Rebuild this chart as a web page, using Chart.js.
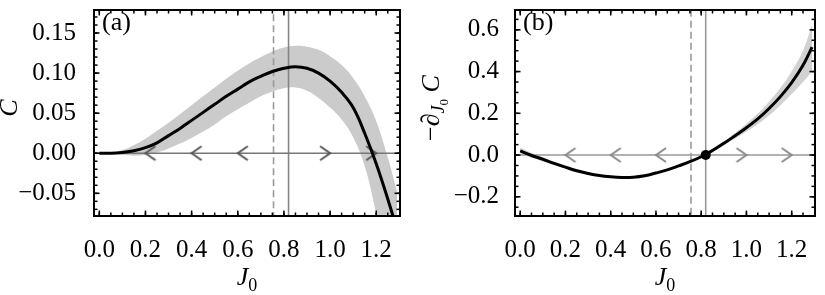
<!DOCTYPE html>
<html><head><meta charset="utf-8">
<script src="https://cdn.jsdelivr.net/npm/chart.js@4.4.1/dist/chart.umd.min.js"></script>
<style>
html,body{margin:0;padding:0;background:#fff;width:825px;height:295px;overflow:hidden}
canvas{position:absolute;top:0}
#ca{left:0}
#cb{left:415px}
</style></head><body>
<canvas id="ca" width="410" height="295"></canvas>
<canvas id="cb" width="410" height="295"></canvas>
<script>
// ---- data ----
const J_GRID  = [0,0.05,0.10,0.15,0.20,0.25,0.30,0.35,0.40,0.45,0.50,0.55,0.60,0.65,0.70,0.75,0.80,0.85,0.90,0.95,1.00,1.05,1.10,1.15,1.20,1.25,1.29];
// panel (a): C
const C_MEAN  = [0.000,0.000,0.001,0.003,0.007,0.013,0.022,0.031,0.041,0.051,0.061,0.071,0.080,0.089,0.096,0.102,0.106,0.108,0.106,0.100,0.090,0.076,0.057,0.025,-0.013,-0.057,-0.095];
const C_UPPER = [0.000,0.001,0.004,0.010,0.018,0.028,0.038,0.049,0.060,0.071,0.082,0.093,0.103,0.112,0.120,0.127,0.132,0.134,0.133,0.129,0.121,0.110,0.094,0.071,0.040,-0.005,-0.048];
const C_LOWER = [0.000,-0.001,-0.002,-0.003,-0.002,0.001,0.006,0.012,0.019,0.027,0.036,0.046,0.055,0.063,0.071,0.077,0.081,0.082,0.078,0.069,0.057,0.042,0.020,-0.016,-0.075,-0.140,-0.190];
// panel (b): -dC/dJ0
const D_MEAN  = [0.020,-0.002,-0.020,-0.040,-0.058,-0.075,-0.088,-0.098,-0.104,-0.107,-0.106,-0.099,-0.086,-0.071,-0.052,-0.032,-0.008,0.022,0.056,0.093,0.131,0.173,0.223,0.280,0.347,0.430,0.517];
const D_UPPER = [0.035,0.011,-0.010,-0.031,-0.050,-0.068,-0.082,-0.093,-0.100,-0.104,-0.103,-0.096,-0.083,-0.068,-0.049,-0.029,-0.004,0.028,0.065,0.106,0.150,0.199,0.256,0.322,0.402,0.500,0.624];
const D_LOWER = [0.008,-0.012,-0.030,-0.049,-0.066,-0.082,-0.094,-0.103,-0.109,-0.111,-0.110,-0.103,-0.090,-0.074,-0.055,-0.035,-0.011,0.016,0.046,0.079,0.113,0.148,0.190,0.238,0.292,0.350,0.402];
const X_TICKS   = [0,0.2,0.4,0.6,0.8,1.0,1.2];
const Y_TICKS_A = [-0.05,0,0.05,0.10,0.15];
const Y_TICKS_B = [-0.2,0,0.2,0.4,0.6];
const ARROWS_LEFT  = [0.2,0.4,0.6];
const ARROWS_RIGHT = [1.0,1.2];
const FIXED_POINT = 0.82;
const DASHED_J    = 0.755;
const X_RANGE   = [-0.023,1.303];
const Y_RANGE_A = [-0.0783,0.1787];
const Y_RANGE_B = [-0.292,0.695];

const FONT = 'Liberation Serif';

function chevron(dir,color){
  const c=document.createElement('canvas');c.width=26;c.height=18;
  const g=c.getContext('2d');g.strokeStyle=color;g.lineWidth=2;g.lineJoin='miter';
  g.beginPath();
  if(dir==='left'){g.moveTo(23,2);g.lineTo(13,9);g.lineTo(23,16);}
  else{g.moveTo(3,2);g.lineTo(13,9);g.lineTo(3,16);}
  g.stroke();return c;
}
function fmt(v,d){const s=Math.abs(v).toFixed(d);return (v<-1e-9?'\u2212':'')+s;}
function pts(xs,ys){return xs.map((x,i)=>({x:x,y:ys[i]}));}

const framePlugin={
  id:'frame',
  afterDraw(chart,args,o){
    const ctx=chart.ctx,a=chart.chartArea,xs=chart.scales.x,ys=chart.scales.y;
    ctx.save();
    ctx.globalAlpha=1;ctx.globalCompositeOperation='source-over';ctx.setLineDash([]);
    ctx.fillStyle='#000';
    const L=Math.round(a.left),R=Math.round(a.right),T=Math.round(a.top),B=Math.round(a.bottom);
    const yT=Array.from(o.yTicks);
    const tick=(vals,isX,len)=>{
      vals.forEach(v=>{
        if(isX){const p=xs.getPixelForValue(v);if(p<L+2||p>R-2)return;
          ctx.fillRect(p-0.75,B-len,1.5,len);ctx.fillRect(p-0.75,T,1.5,len);}
        else{const p=ys.getPixelForValue(v);if(p<T+2||p>B-2)return;
          ctx.fillRect(L,p-0.75,len,1.5);ctx.fillRect(R-len,p-0.75,len,1.5);}
      });
    };
    const minor=(min,max,step)=>{const r=[];for(let k=Math.ceil(min/step-1e-9);k<=Math.floor(max/step+1e-9);k++)r.push(k*step);return r;};
    tick(minor(xs.min,xs.max,0.05),true,3.5);
    tick(X_TICKS,true,5.5);
    tick(minor(ys.min,ys.max,o.minorY),false,3.5);
    tick(yT,false,5.5);
    // frame
    ctx.fillRect(L-1,T-1,R-L+2,2);
    ctx.fillRect(L-1,B-1,R-L+2,2);
    ctx.fillRect(L-1,T-1,2,B-T+2);
    ctx.fillRect(R-1,T-1,2,B-T+2);
    // panel label
    ctx.font='26px "'+FONT+'"';ctx.textAlign='left';ctx.textBaseline='alphabetic';
    ctx.fillText(o.label,a.left+8,30);
    // x title J_0
    const cx=(a.left+a.right)/2;
    ctx.font='italic 26px "'+FONT+'"';const wJ=ctx.measureText('J').width;
    ctx.font='18px "'+FONT+'"';const w0=ctx.measureText('0').width;
    let x0=cx-(wJ+w0)/2;
    ctx.font='italic 26px "'+FONT+'"';ctx.fillText('J',x0,285);
    ctx.font='18px "'+FONT+'"';ctx.fillText('0',x0+wJ,291);
    // y title
    ctx.translate(o.titleX,108);ctx.rotate(-Math.PI/2);
    if(o.yTitle==='C'){
      ctx.font='italic 26px "'+FONT+'"';ctx.textAlign='center';ctx.fillText('C',0,0);
    }else{
      const parts=[
        {t:'\u2212',f:'26px',dy:0},
        {t:'\u2202',f:'italic 26px',dy:0},
        {t:'J',f:'italic 18px',dy:5},
        {t:'0',f:'13px',dy:9},
        {t:' ',f:'26px',dy:0},
        {t:'C',f:'italic 26px',dy:0}];
      let tot=0;parts.forEach(p=>{ctx.font=p.f+' "'+FONT+'"';p.w=ctx.measureText(p.t).width;tot+=p.w;});
      let x=-tot/2;ctx.textAlign='left';
      parts.forEach(p=>{ctx.font=p.f+' "'+FONT+'"';ctx.fillText(p.t,x,p.dy);x+=p.w;});
    }
    ctx.restore();
  }
};

function makeChart(id,cfg){
  const yr=cfg.yRange;
  const ds=[
    {label:'curve',data:pts(J_GRID,cfg.mean),borderColor:'#000',borderWidth:3,pointRadius:0,tension:0.4,fill:false,order:1},
    {label:'arrowsL',data:ARROWS_LEFT.map(x=>({x:x,y:0})),showLine:false,pointStyle:chevron('left',cfg.arrowColor),pointRadius:9,order:2},
    {label:'arrowsR',data:ARROWS_RIGHT.map(x=>({x:x,y:0})),showLine:false,pointStyle:chevron('right',cfg.arrowColor),pointRadius:9,order:2},
    {label:'zero',data:[{x:X_RANGE[0]-0.1,y:0},{x:X_RANGE[1]+0.1,y:0}],borderColor:cfg.lineColor,borderWidth:1.6,pointRadius:0,fill:false,order:3},
    {label:'fixed',data:[{x:FIXED_POINT,y:yr[0]-0.1},{x:FIXED_POINT,y:yr[1]+0.1}],borderColor:cfg.vColor,borderWidth:1.6,pointRadius:0,fill:false,order:3},
    {label:'dashed',data:[{x:DASHED_J,y:yr[0]-0.1},{x:DASHED_J,y:yr[1]+0.1}],borderColor:'#9a9a9a',borderWidth:1.6,borderDash:[7,4],pointRadius:0,fill:false,order:3},
    {label:'upper',data:pts(J_GRID,cfg.upper),borderWidth:0,borderColor:'rgba(0,0,0,0)',backgroundColor:cfg.band,pointRadius:0,tension:0.4,fill:'+1',order:4},
    {label:'lower',data:pts(J_GRID,cfg.lower),borderWidth:0,borderColor:'rgba(0,0,0,0)',pointRadius:0,tension:0.4,fill:false,order:5}
  ];
  if(cfg.dot) ds.splice(1,0,{label:'dot',data:[{x:FIXED_POINT,y:0}],showLine:false,pointRadius:5,pointBackgroundColor:'#000',pointBorderWidth:0,order:0});
  return new Chart(document.getElementById(id),{
    type:'line',
    data:{datasets:ds},
    options:{
      responsive:false,animation:false,devicePixelRatio:1,events:[],
      layout:{padding:{left:0,right:cfg.padRight,top:1,bottom:0}},
      plugins:{legend:{display:false},tooltip:{enabled:false},
        frame:{label:cfg.label,yTicks:cfg.yTicks,minorY:cfg.minorY,yTitle:cfg.yTitle,titleX:cfg.titleX}},
      scales:{
        x:{type:'linear',min:X_RANGE[0],max:X_RANGE[1],grid:{display:false},border:{display:false},
          afterBuildTicks:s=>{s.ticks=X_TICKS.map(v=>({value:v}));},
          afterFit:s=>{s.height=79;s.paddingLeft=0;s.paddingRight=0;},
          ticks:{autoSkip:false,maxRotation:0,minRotation:0,padding:11,color:'#000',font:{family:FONT,size:25},callback:v=>fmt(v,1)}},
        y:{type:'linear',min:yr[0],max:yr[1],grid:{display:false},border:{display:false},
          afterBuildTicks:s=>{s.ticks=cfg.yTicks.map(v=>({value:v}));},
          afterFit:s=>{s.width=cfg.yWidth;s.paddingTop=0;s.paddingBottom=0;},
          ticks:{autoSkip:false,padding:cfg.yPad,color:'#000',font:{family:FONT,size:25},callback:v=>fmt(v,cfg.yDec)}}
      }
    },
    plugins:[framePlugin]
  });
}

makeChart('ca',{mean:C_MEAN,upper:C_UPPER,lower:C_LOWER,yRange:Y_RANGE_A,yTicks:Y_TICKS_A,minorY:0.01,yDec:2,
  yWidth:94,padRight:10,yPad:10,label:'(a)',yTitle:'C',titleX:17,band:'#cbcbcb',lineColor:'#767676',vColor:'#858585',arrowColor:'#555555',dot:false});
makeChart('cb',{mean:D_MEAN,upper:D_UPPER,lower:D_LOWER,yRange:Y_RANGE_B,yTicks:Y_TICKS_B,minorY:0.05,yDec:1,
  yWidth:100,padRight:3,yPad:8,label:'(b)',yTitle:'D',titleX:24,band:'#d2d2d2',lineColor:'#999999',vColor:'#999999',arrowColor:'#8a8a8a',dot:true});
</script>
</body></html>
